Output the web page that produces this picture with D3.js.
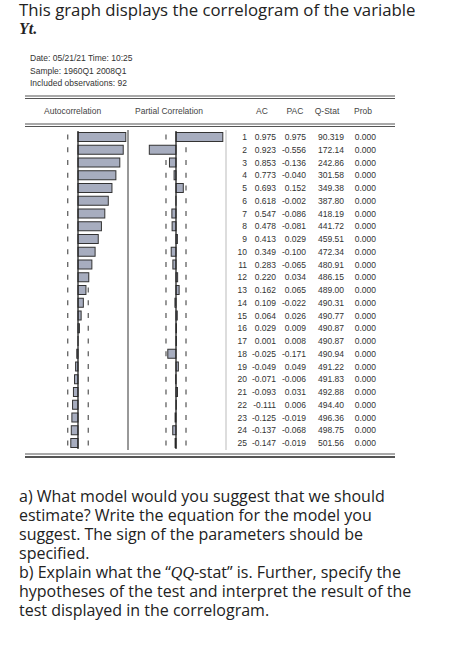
<!DOCTYPE html>
<html><head><meta charset="utf-8">
<script src="https://cdn.jsdelivr.net/npm/d3@7"></script>
<style>body{margin:0;background:#fff}</style>
</head><body><svg id="c" width="464" height="668"></svg>
<script>
const lags=d3.range(1,26);
const ac=[0.975,0.923,0.853,0.773,0.693,0.618,0.547,0.478,0.413,0.349,0.283,0.220,0.162,0.109,0.064,0.029,0.001,-0.025,-0.049,-0.071,-0.093,-0.111,-0.125,-0.137,-0.147];
const pac=[0.975,-0.556,-0.136,-0.040,0.152,-0.002,-0.086,-0.081,0.029,-0.100,-0.065,0.034,0.065,-0.022,0.026,0.009,0.008,-0.171,0.049,-0.006,0.031,0.006,-0.019,-0.068,-0.019];
const qstat=["90.319","172.14","242.86","301.58","349.38","387.80","418.19","441.72","459.51","472.34","480.91","486.15","489.00","490.31","490.77","490.87","490.87","490.94","491.22","491.83","492.88","494.40","496.36","498.75","501.56"];
const prob=lags.map(()=>"0.000");
const headers=["Autocorrelation","Partial Correlation","AC","PAC","Q-Stat","Prob"];
const info=["Date: 05/21/21   Time: 10:25","Sample: 1960Q1 2008Q1","Included observations: 92"];
const band=2/Math.sqrt(92);

const svg=d3.select("#c");
const F="Liberation Sans, Arial, sans-serif";
svg.append("text").attr("x",19).attr("y",16).attr("font-family","Open Sans, sans-serif").attr("font-size",16.8).attr("fill","#222").text("This graph displays the correlogram of the variable");
svg.append("text").attr("x",19).attr("y",34).attr("font-family","Liberation Serif, serif").attr("font-size",16).attr("font-weight","bold").attr("font-style","italic").attr("fill","#222").text("Yt.");
info.forEach((t,i)=>svg.append("text").attr("x",30).attr("y",61+i*12.5).attr("font-family",F).attr("font-size",8.5).attr("fill","#333").text(t));

const y=d3.scaleLinear().domain([1,25]).range([137,443]);
const xa=d3.scaleLinear().domain([0,1]).range([78,127]);
const xp=d3.scaleLinear().domain([0,1]).range([176,224]);
const L=25,R=395;
[[96,98.5],[124,126.5],[454,457]].forEach(p=>p.forEach(v=>svg.append("line").attr("x1",L).attr("x2",R).attr("y1",v).attr("y2",v).attr("stroke","#555").attr("stroke-width",p[0]==454&&v==457?2:1.2)));
const hx=[[44,"start"],[135,"start"],[262,"middle"],[295,"middle"],[327,"middle"],[363,"middle"]];
headers.forEach((h,i)=>svg.append("text").attr("x",hx[i][0]).attr("y",114).attr("text-anchor",hx[i][1]).attr("font-family",F).attr("font-size",8.5).attr("fill","#444").text(h));
svg.append("line").attr("x1",128).attr("x2",128).attr("y1",130).attr("y2",450).attr("stroke","#333").attr("stroke-width",1);
svg.append("line").attr("x1",226).attr("x2",226).attr("y1",130).attr("y2",450).attr("stroke","#bbb").attr("stroke-width",1);
[[xa,-band],[xa,band],[xp,-band],[xp,band]].forEach(([s,v])=>svg.append("g").selectAll("line").data(lags).join("line")
 .attr("x1",s(v)).attr("x2",s(v)).attr("y1",d=>y(d)-2.5).attr("y2",d=>y(d)+2.5).attr("stroke","#333").attr("stroke-width",1));
function bars(vals,s){
 svg.append("g").selectAll("rect").data(vals).join("rect")
  .attr("x",d=>s(Math.min(0,d))).attr("width",d=>Math.abs(s(d)-s(0)))
  .attr("y",(d,i)=>y(i+1)-4.5).attr("height",9).attr("fill","#a7adbf").attr("stroke","#333").attr("stroke-width",1);
 svg.append("line").attr("x1",s(0)).attr("x2",s(0)).attr("y1",131).attr("y2",449).attr("stroke","#222").attr("stroke-width",1.3);
}
bars(ac,xa);bars(pac,xp);
const g=svg.append("g").attr("font-family",F).attr("font-size",8.5).attr("fill","#333");
lags.forEach((l,i)=>{
 const yy=y(l)+3;
 g.append("text").attr("x",247).attr("y",yy).attr("text-anchor","end").text(l);
 g.append("text").attr("x",276).attr("y",yy).attr("text-anchor","end").text(ac[i].toFixed(3));
 g.append("text").attr("x",306).attr("y",yy).attr("text-anchor","end").text(pac[i].toFixed(3));
 g.append("text").attr("x",344).attr("y",yy).attr("text-anchor","end").text(qstat[i]);
 g.append("text").attr("x",376).attr("y",yy).attr("text-anchor","end").text(prob[i]);
});
const lines=["a) What model would you suggest that we should","estimate? Write the equation for the model you","suggest. The sign of the parameters should be","specified.","b) Explain what the \u201C","hypotheses of the test and interpret the result of the","test displayed in the correlogram."];
lines.forEach((t,i)=>{
 const tx=svg.append("text").attr("x",19).attr("y",502+i*19).attr("font-family","Open Sans, sans-serif").attr("font-size",16).attr("fill","#222");
 if(i==4){tx.append("tspan").text(t);tx.append("tspan").attr("font-family","Liberation Serif, serif").attr("font-style","italic").text("QQ");tx.append("tspan").text("-stat\u201D is. Further, specify the");}
 else tx.text(t);
});
</script></body></html>
